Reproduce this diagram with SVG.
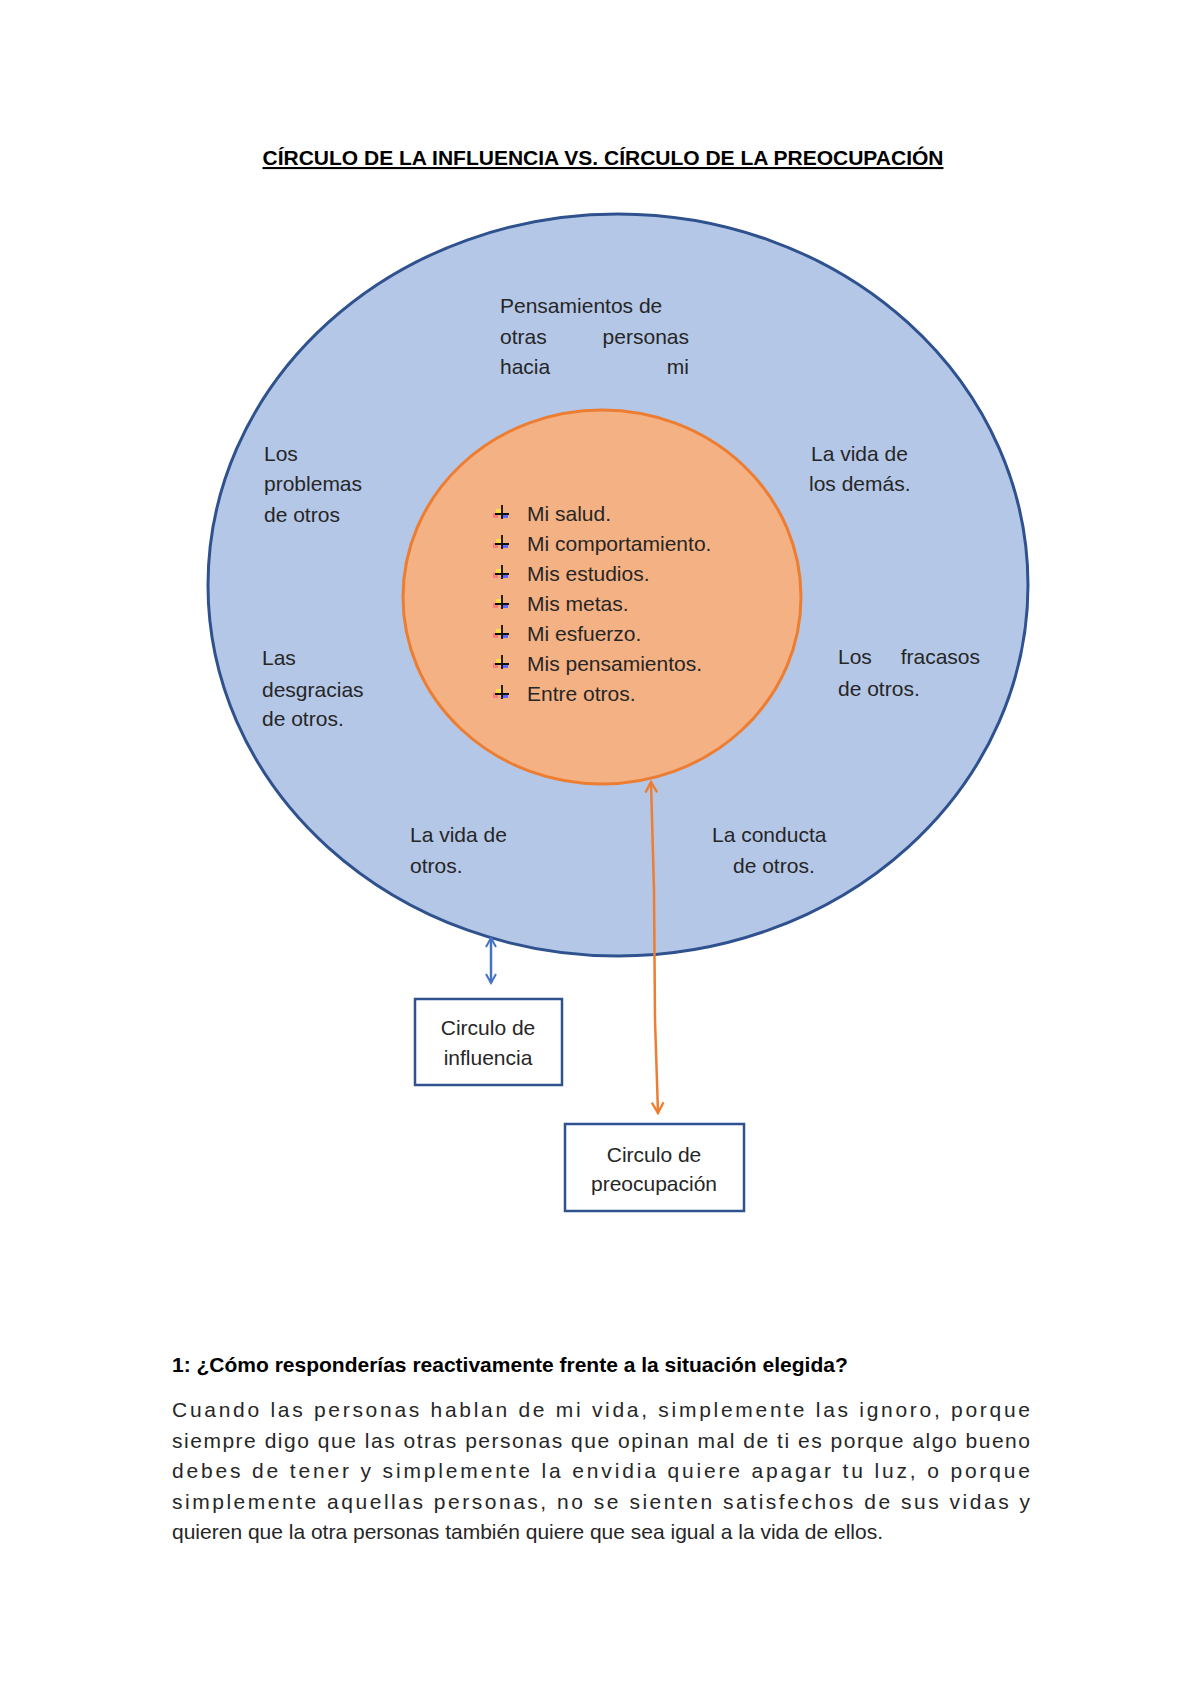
<svg xmlns="http://www.w3.org/2000/svg" width="1200" height="1696" viewBox="0 0 1200 1696">
<style>
text{font-family:"Liberation Sans",Arial,sans-serif;font-size:21px;fill:#262626}
.b{font-weight:bold;font-size:21px;fill:#000}
.c{text-anchor:middle}
.e{text-anchor:end}
</style>
<defs>
<marker id="ab" viewBox="0 0 12 12" refX="10" refY="6" markerWidth="12" markerHeight="12" markerUnits="userSpaceOnUse" orient="auto-start-reverse"><path d="M1,1 L10,6 L1,11" fill="none" stroke="#4472c4" stroke-width="2"/></marker>
<marker id="ao" viewBox="0 0 12 12" refX="10" refY="6" markerWidth="14" markerHeight="14" markerUnits="userSpaceOnUse" orient="auto-start-reverse"><path d="M1,1 L10,6 L1,11" fill="none" stroke="#ed7d31" stroke-width="2"/></marker>
<g id="bul"><rect x="-6" y="-7" width="6" height="6" fill="#ffd94a"/><rect x="-9" y="-3" width="5" height="5" fill="#ff7a7a"/><rect x="0" y="-3" width="6" height="5" fill="#5b6bff"/><path d="M0,-11 V3 M-7,-2 H7" stroke="#111" stroke-width="1.8"/></g>
</defs>
<text class="b c" x="603" y="165" text-decoration="underline">CÍRCULO DE LA INFLUENCIA VS. CÍRCULO DE LA PREOCUPACIÓN</text>
<g id="outer"><ellipse cx="618" cy="585" rx="410" ry="371" fill="#b4c7e7" stroke="#2f528f" stroke-width="3"/>
<text x="500" y="313">Pensamientos de</text>
<text x="500" y="344">otras</text><text class="e" x="689" y="344">personas</text>
<text x="500" y="374">hacia</text><text class="e" x="689" y="374">mi</text>
<text x="264" y="461">Los</text><text x="264" y="491">problemas</text><text x="264" y="522">de otros</text>
<text x="811" y="461">La vida de</text><text x="809" y="491">los demás.</text>
<text x="262" y="665">Las</text><text x="262" y="697">desgracias</text><text x="262" y="726">de otros.</text>
<text x="838" y="664">Los</text><text class="e" x="980" y="664">fracasos</text><text x="838" y="696">de otros.</text>
<text x="410" y="842">La vida  de</text><text x="410" y="873">otros.</text>
<text x="712" y="842">La conducta</text><text x="733" y="873">de otros.</text>
</g>
<g id="inner"><ellipse cx="602" cy="597" rx="199" ry="187" fill="#f4b183" stroke="#ed7d31" stroke-width="3"/>
<use href="#bul" x="502" y="516"/><text x="527" y="521">Mi salud.</text>
<use href="#bul" x="502" y="546"/><text x="527" y="551">Mi comportamiento.</text>
<use href="#bul" x="502" y="576"/><text x="527" y="581">Mis estudios.</text>
<use href="#bul" x="502" y="606"/><text x="527" y="611">Mis metas.</text>
<use href="#bul" x="502" y="636"/><text x="527" y="641">Mi esfuerzo.</text>
<use href="#bul" x="502" y="666"/><text x="527" y="671">Mis pensamientos.</text>
<use href="#bul" x="502" y="696"/><text x="527" y="701">Entre otros.</text>
</g>
<g id="box-influencia"><rect x="415" y="999" width="147" height="86" fill="#fff" stroke="#2f528f" stroke-width="2.5"/>
<text class="c" x="488" y="1035">Circulo de</text><text class="c" x="488" y="1065">influencia</text></g>
<g id="box-preocupacion"><rect x="565" y="1124" width="179" height="87" fill="#fff" stroke="#2f528f" stroke-width="2.5"/>
<text class="c" x="654" y="1162">Circulo de</text><text class="c" x="654" y="1191">preocupación</text></g>
<g id="connectors" fill="none">
<path d="M491,938 L491,983" stroke="#4472c4" stroke-width="2.5" marker-start="url(#ab)" marker-end="url(#ab)"/>
<path d="M651,782 L654,890 L655,1020 L658,1113" stroke="#ed7d31" stroke-width="2.5" marker-start="url(#ao)" marker-end="url(#ao)"/>
</g>
<text class="b" x="172" y="1372">1: ¿Cómo responderías reactivamente frente a la situación elegida?</text>
<text x="172" y="1417" textLength="858" lengthAdjust="spacing">Cuando las personas hablan de mi vida, simplemente las ignoro, porque</text>
<text x="172" y="1448" textLength="858" lengthAdjust="spacing">siempre digo que las otras personas que opinan mal de ti es porque algo bueno</text>
<text x="172" y="1478" textLength="858" lengthAdjust="spacing">debes de tener y simplemente la envidia quiere apagar tu luz, o porque</text>
<text x="172" y="1509" textLength="858" lengthAdjust="spacing">simplemente aquellas personas, no se sienten satisfechos de sus vidas y</text>
<text x="172" y="1539">quieren que la otra personas también quiere que sea igual a la vida de ellos.</text>
</svg>
